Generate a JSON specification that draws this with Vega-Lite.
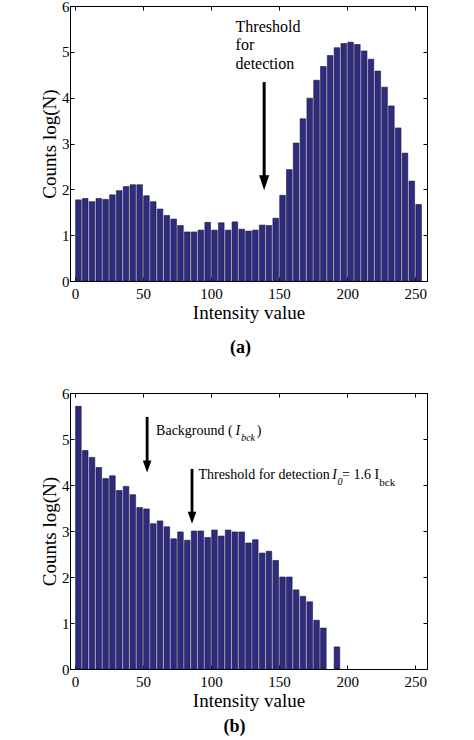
{
  "$schema": "https://vega.github.io/schema/vega-lite/v6.json",
  "background": "white",
  "padding": {"left": 40, "top": -2, "right": 5, "bottom": 5},
  "config": {
    "font": "Liberation Serif",
    "view": {"stroke": "black", "strokeWidth": 1},
    "axis": {
      "grid": false,
      "domainColor": "black",
      "tickColor": "black",
      "labelColor": "black",
      "titleColor": "black",
      "labelFont": "Liberation Serif",
      "titleFont": "Liberation Serif",
      "labelFontSize": 15,
      "titleFontSize": 19,
      "titleFontWeight": "normal",
      "tickSize": -4,
      "tickWidth": 1,
      "domainWidth": 1
    },
    "text": {"font": "Liberation Serif"},
    "title": {"font": "Liberation Serif", "fontSize": 18, "fontWeight": "bold", "color": "black"}
  },
  "datasets": {
    "counts_a": [
      {"intensity": 2.5, "logN": 1.77}, {"intensity": 7.5, "logN": 1.80}, {"intensity": 12.5, "logN": 1.73},
      {"intensity": 17.5, "logN": 1.80}, {"intensity": 22.5, "logN": 1.78}, {"intensity": 27.5, "logN": 1.88},
      {"intensity": 32.5, "logN": 1.97}, {"intensity": 37.5, "logN": 2.06}, {"intensity": 42.5, "logN": 2.10},
      {"intensity": 47.5, "logN": 2.10}, {"intensity": 52.5, "logN": 1.86}, {"intensity": 57.5, "logN": 1.73},
      {"intensity": 62.5, "logN": 1.57}, {"intensity": 67.5, "logN": 1.43}, {"intensity": 72.5, "logN": 1.35},
      {"intensity": 77.5, "logN": 1.21}, {"intensity": 82.5, "logN": 1.07}, {"intensity": 87.5, "logN": 1.07},
      {"intensity": 92.5, "logN": 1.11}, {"intensity": 97.5, "logN": 1.28}, {"intensity": 102.5, "logN": 1.11},
      {"intensity": 107.5, "logN": 1.27}, {"intensity": 112.5, "logN": 1.11}, {"intensity": 117.5, "logN": 1.29},
      {"intensity": 122.5, "logN": 1.13}, {"intensity": 127.5, "logN": 1.09}, {"intensity": 132.5, "logN": 1.11},
      {"intensity": 137.5, "logN": 1.22}, {"intensity": 142.5, "logN": 1.21}, {"intensity": 147.5, "logN": 1.37},
      {"intensity": 152.5, "logN": 1.87}, {"intensity": 157.5, "logN": 2.43}, {"intensity": 162.5, "logN": 3.01},
      {"intensity": 167.5, "logN": 3.54}, {"intensity": 172.5, "logN": 3.99}, {"intensity": 177.5, "logN": 4.38},
      {"intensity": 182.5, "logN": 4.68}, {"intensity": 187.5, "logN": 4.92}, {"intensity": 192.5, "logN": 5.09},
      {"intensity": 197.5, "logN": 5.18}, {"intensity": 202.5, "logN": 5.21}, {"intensity": 207.5, "logN": 5.16},
      {"intensity": 212.5, "logN": 5.02}, {"intensity": 217.5, "logN": 4.84}, {"intensity": 222.5, "logN": 4.58},
      {"intensity": 227.5, "logN": 4.23}, {"intensity": 232.5, "logN": 3.82}, {"intensity": 237.5, "logN": 3.34},
      {"intensity": 242.5, "logN": 2.79}, {"intensity": 247.5, "logN": 2.18}, {"intensity": 252.5, "logN": 1.67}
    ],
    "counts_b": [
      {"intensity": 2.5, "logN": 5.71}, {"intensity": 7.5, "logN": 4.75}, {"intensity": 12.5, "logN": 4.60},
      {"intensity": 17.5, "logN": 4.38}, {"intensity": 22.5, "logN": 4.14}, {"intensity": 27.5, "logN": 4.20},
      {"intensity": 32.5, "logN": 3.88}, {"intensity": 37.5, "logN": 3.97}, {"intensity": 42.5, "logN": 3.79},
      {"intensity": 47.5, "logN": 3.51}, {"intensity": 52.5, "logN": 3.48}, {"intensity": 57.5, "logN": 3.16},
      {"intensity": 62.5, "logN": 3.22}, {"intensity": 67.5, "logN": 3.09}, {"intensity": 72.5, "logN": 2.83},
      {"intensity": 77.5, "logN": 2.98}, {"intensity": 82.5, "logN": 2.80}, {"intensity": 87.5, "logN": 3.00},
      {"intensity": 92.5, "logN": 3.00}, {"intensity": 97.5, "logN": 2.86}, {"intensity": 102.5, "logN": 3.02},
      {"intensity": 107.5, "logN": 2.89}, {"intensity": 112.5, "logN": 3.02}, {"intensity": 117.5, "logN": 2.98},
      {"intensity": 122.5, "logN": 2.98}, {"intensity": 127.5, "logN": 2.74}, {"intensity": 132.5, "logN": 2.81},
      {"intensity": 137.5, "logN": 2.52}, {"intensity": 142.5, "logN": 2.56}, {"intensity": 147.5, "logN": 2.36},
      {"intensity": 152.5, "logN": 2.00}, {"intensity": 157.5, "logN": 2.00}, {"intensity": 162.5, "logN": 1.72},
      {"intensity": 167.5, "logN": 1.58}, {"intensity": 172.5, "logN": 1.46}, {"intensity": 177.5, "logN": 1.06},
      {"intensity": 182.5, "logN": 0.89}, {"intensity": 192.5, "logN": 0.48}
    ],
    "arrows": [
      {"panel": "a", "x": 139, "top": 4.34, "tip": 1.98},
      {"panel": "b", "x": 53, "top": 5.48, "tip": 4.27},
      {"panel": "b", "x": 86, "top": 4.35, "tip": 3.16}
    ],
    "notes": [
      {"panel": "a", "part": "label", "x": 118, "y": 5.44, "text": ["Threshold", "for", "detection"]},
      {"panel": "b", "part": "label", "x": 59.6, "y": 5.09, "text": "Background ("},
      {"panel": "b", "part": "symbol", "x": 117.9, "y": 5.09, "text": "I"},
      {"panel": "b", "part": "symbol_sub", "x": 122.1, "y": 5.09, "text": "bck"},
      {"panel": "b", "part": "label", "x": 133.6, "y": 5.09, "text": ")"},
      {"panel": "b", "part": "label", "x": 90.7, "y": 4.14, "text": "Threshold for detection"},
      {"panel": "b", "part": "symbol", "x": 189.1, "y": 4.14, "text": "I"},
      {"panel": "b", "part": "symbol_sub", "x": 192.9, "y": 4.14, "text": "0"},
      {"panel": "b", "part": "label", "x": 196.2, "y": 4.14, "text": "= 1.6 I"},
      {"panel": "b", "part": "sub", "x": 223.6, "y": 4.14, "text": "bck"}
    ]
  },
  "bounds": "flush",
  "spacing": 112,
  "vconcat": [
    {
      "width": 357,
      "height": 275,
      "title": {"text": "(a)", "orient": "bottom", "anchor": "middle", "offset": 17, "dx": -8},
      "layer": [
        {
          "data": {"name": "counts_a"},
          "mark": {"type": "bar", "orient": "vertical", "size": 5.6, "fill": "#2f2b80", "stroke": "#17153d", "strokeWidth": 0.6},
          "encoding": {
            "x": {"field": "intensity", "type": "quantitative",
                  "scale": {"domain": [0, 255], "nice": false, "zero": false},
                  "axis": {"orient": "bottom", "values": [0, 50, 100, 150, 200, 250], "title": "Intensity value", "labelPadding": 9, "titlePadding": 2, "labelFlush": false}},
            "y": {"field": "logN", "type": "quantitative",
                  "scale": {"domain": [0, 6], "nice": false},
                  "axis": {"orient": "left", "values": [0, 1, 2, 3, 4, 5, 6], "title": "Counts log(N)", "labelPadding": 5, "titlePadding": 2}}
          }
        },
        {
          "data": {"name": "arrows"},
          "transform": [{"filter": "datum.panel === 'a'"}],
          "mark": {"type": "rule", "strokeWidth": 3, "color": "black", "y2Offset": -8},
          "encoding": {
            "x": {"field": "x", "type": "quantitative",
                  "axis": {"orient": "top", "values": [0, 50, 100, 150, 200, 250], "labels": false, "title": null}},
            "y": {"field": "top", "type": "quantitative",
                  "axis": {"orient": "right", "values": [0, 1, 2, 3, 4, 5, 6], "labels": false, "title": null}},
            "y2": {"field": "tip"}
          }
        },
        {
          "data": {"name": "arrows"},
          "transform": [{"filter": "datum.panel === 'a'"}],
          "mark": {"type": "point", "shape": "M-0.67,-2L0.67,-2L0,0Z", "filled": true, "color": "black", "opacity": 1, "size": 225},
          "encoding": {
            "x": {"field": "x", "type": "quantitative", "axis": null},
            "y": {"field": "tip", "type": "quantitative", "axis": null}
          }
        },
        {
          "data": {"name": "notes"},
          "transform": [{"filter": "datum.panel === 'a'"}],
          "mark": {"type": "text", "font": "Liberation Serif", "align": "left", "baseline": "alphabetic", "fontSize": 16, "lineHeight": 18.5, "color": "black"},
          "encoding": {
            "x": {"field": "x", "type": "quantitative", "axis": null},
            "y": {"field": "y", "type": "quantitative", "axis": null},
            "text": {"field": "text"}
          }
        }
      ],
      "resolve": {"axis": {"x": "independent", "y": "independent"}}
    },
    {
      "width": 357,
      "height": 276,
      "title": {"text": "(b)", "orient": "bottom", "anchor": "middle", "offset": 8, "dx": -14},
      "layer": [
        {
          "data": {"name": "counts_b"},
          "mark": {"type": "bar", "orient": "vertical", "size": 5.6, "fill": "#2f2b80", "stroke": "#17153d", "strokeWidth": 0.6, "clip": true},
          "encoding": {
            "x": {"field": "intensity", "type": "quantitative",
                  "scale": {"domain": [0, 255], "nice": false, "zero": false},
                  "axis": {"orient": "bottom", "values": [0, 50, 100, 150, 200, 250], "title": "Intensity value", "labelPadding": 9, "titlePadding": 2, "labelFlush": false}},
            "y": {"field": "logN", "type": "quantitative",
                  "scale": {"domain": [0, 6], "nice": false},
                  "axis": {"orient": "left", "values": [0, 1, 2, 3, 4, 5, 6], "title": "Counts log(N)", "labelPadding": 5, "titlePadding": 2}}
          }
        },
        {
          "data": {"name": "arrows"},
          "transform": [{"filter": "datum.panel === 'b'"}],
          "mark": {"type": "rule", "strokeWidth": 2.8, "color": "black", "y2Offset": -7},
          "encoding": {
            "x": {"field": "x", "type": "quantitative",
                  "axis": {"orient": "top", "values": [0, 50, 100, 150, 200, 250], "labels": false, "title": null}},
            "y": {"field": "top", "type": "quantitative",
                  "axis": {"orient": "right", "values": [0, 1, 2, 3, 4, 5, 6], "labels": false, "title": null}},
            "y2": {"field": "tip"}
          }
        },
        {
          "data": {"name": "arrows"},
          "transform": [{"filter": "datum.panel === 'b'"}],
          "mark": {"type": "point", "shape": "M-0.72,-2L0.72,-2L0,0Z", "filled": true, "color": "black", "opacity": 1, "size": 144},
          "encoding": {
            "x": {"field": "x", "type": "quantitative", "axis": null},
            "y": {"field": "tip", "type": "quantitative", "axis": null}
          }
        },
        {
          "data": {"name": "notes"},
          "transform": [{"filter": "datum.panel === 'b' && datum.part === 'label'"}],
          "mark": {"type": "text", "font": "Liberation Serif", "align": "left", "baseline": "alphabetic", "fontSize": 14, "color": "black"},
          "encoding": {
            "x": {"field": "x", "type": "quantitative", "axis": null},
            "y": {"field": "y", "type": "quantitative", "axis": null},
            "text": {"field": "text"}
          }
        },
        {
          "data": {"name": "notes"},
          "transform": [{"filter": "datum.panel === 'b' && datum.part === 'symbol'"}],
          "mark": {"type": "text", "font": "Liberation Serif", "align": "left", "baseline": "alphabetic", "fontSize": 14, "fontStyle": "italic", "color": "black"},
          "encoding": {
            "x": {"field": "x", "type": "quantitative", "axis": null},
            "y": {"field": "y", "type": "quantitative", "axis": null},
            "text": {"field": "text"}
          }
        },
        {
          "data": {"name": "notes"},
          "transform": [{"filter": "datum.panel === 'b' && datum.part === 'symbol_sub'"}],
          "mark": {"type": "text", "font": "Liberation Serif", "align": "left", "baseline": "alphabetic", "fontSize": 10, "fontStyle": "italic", "dy": 6, "color": "black"},
          "encoding": {
            "x": {"field": "x", "type": "quantitative", "axis": null},
            "y": {"field": "y", "type": "quantitative", "axis": null},
            "text": {"field": "text"}
          }
        },
        {
          "data": {"name": "notes"},
          "transform": [{"filter": "datum.panel === 'b' && datum.part === 'sub'"}],
          "mark": {"type": "text", "font": "Liberation Serif", "align": "left", "baseline": "alphabetic", "fontSize": 11, "dy": 7, "color": "black"},
          "encoding": {
            "x": {"field": "x", "type": "quantitative", "axis": null},
            "y": {"field": "y", "type": "quantitative", "axis": null},
            "text": {"field": "text"}
          }
        }
      ],
      "resolve": {"axis": {"x": "independent", "y": "independent"}}
    }
  ]
}
